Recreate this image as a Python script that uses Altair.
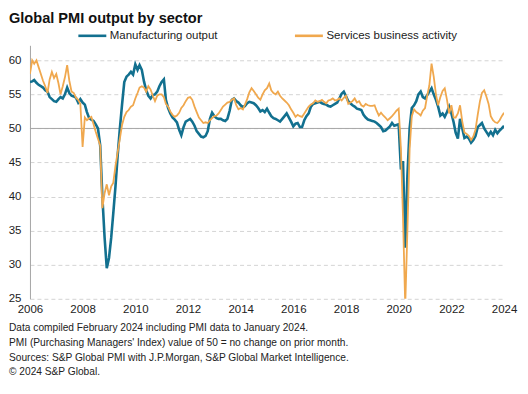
import altair as alt
import pandas as pd

title_text = "Global PMI output by sector"
series_names = ["Manufacturing output", "Services business activity"]
series_colors = ["#12708F", "#F0A84E"]
footer_lines = [
    "Data compiled February 2024 including PMI data to January 2024.",
    "PMI (Purchasing Managers' Index) value of 50 = no change on prior month.",
    "Sources: S&P Global PMI with J.P.Morgan, S&P Global Market Intelligence.",
    "\u00a9 2024 S&P Global.",
]
y_ticks = [25, 30, 35, 40, 45, 50, 55, 60]
x_tick_years = [2006, 2008, 2010, 2012, 2014, 2016, 2018, 2020, 2022, 2024]

# Monthly values, Jan 2006 - Jan 2024
manufacturing = [
    56.8, 56.9, 57.1, 56.7, 56.4, 56.2, 56.0, 55.6, 55.4, 54.6, 54.3, 54.0,  # 2006
    53.9, 54.3, 54.6, 54.4, 55.0, 56.0, 55.2, 54.8, 54.7, 54.5, 53.8, 54.3,  # 2007
    53.8, 53.5, 52.4, 51.5, 51.3, 51.1, 50.6, 50.0, 47.5, 40.0, 34.0, 29.5,  # 2008
    31.0, 34.0, 37.5, 41.5, 46.0, 50.0, 53.5, 56.8, 57.6, 57.9, 58.3, 57.9,  # 2009
    59.4, 58.6, 59.3, 58.6, 56.9, 55.6, 54.8, 54.4, 54.9, 55.0, 55.4, 56.2,  # 2010
    56.8, 57.2, 54.2, 53.0, 52.2, 51.6, 51.3, 50.9, 49.8, 49.0, 50.2, 51.0,  # 2011
    51.2, 51.4, 51.0, 50.4, 49.6, 49.2, 48.8, 48.7, 48.9, 49.6, 51.4, 52.3,  # 2012
    51.8, 51.5, 51.4, 51.4, 51.2, 51.1, 51.4, 52.6, 54.2, 54.4, 54.0, 53.8,  # 2013
    53.4, 53.1, 53.3, 53.7, 53.9, 53.8, 53.7, 53.4, 53.0, 52.5, 52.7, 52.4,  # 2014
    52.9, 52.3, 51.8, 51.5, 51.4, 51.2, 51.0, 51.4, 51.8, 52.2, 51.6, 51.0,  # 2015
    50.3, 50.7, 50.8, 50.2, 50.2, 51.2, 51.8, 52.2, 53.2, 53.6, 53.7, 53.8,  # 2016
    53.9, 53.7, 53.6, 53.5, 53.3, 53.2, 53.4, 53.6, 53.8, 54.4, 55.1, 55.4,  # 2017
    54.7, 54.0, 53.7, 53.4, 53.2, 52.9, 52.8, 52.7, 52.0, 51.6, 51.3, 51.2,  # 2018
    51.1, 51.0, 50.8, 50.5, 50.2, 49.6, 49.7, 50.0, 50.3, 50.8, 50.4, 50.5,  # 2019
    50.6, 44.0, 45.2, 32.5, 43.0, 50.0, 53.0, 53.4, 54.0, 55.0, 55.4, 54.6,  # 2020
    54.4, 54.9, 55.4, 55.9, 55.0, 54.2, 53.2, 51.9, 52.2, 51.7, 52.4, 53.2,  # 2021
    52.2, 50.9, 49.4, 48.5, 51.4, 50.0, 48.6, 48.8, 48.5, 47.9, 48.3, 48.9,  # 2022
    50.2, 50.5, 50.8, 50.0, 49.5, 49.0, 49.5, 49.0, 49.8, 49.3, 49.7, 50.0,  # 2023
    50.4,                                                                    # 2024
]
services = [
    58.0, 60.0, 59.5, 60.0, 59.0, 58.0, 57.0, 56.2, 55.2, 57.2, 58.3, 57.4,  # 2006
    58.0, 56.6, 55.0, 56.2, 57.5, 59.3, 57.0, 55.4, 55.2, 54.5, 54.2, 53.6,  # 2007
    47.3, 51.6, 51.2, 51.5, 51.7, 50.6, 49.5, 48.5, 47.5, 38.3, 40.5, 41.8,  # 2008
    40.2, 41.5, 42.0, 44.5, 46.5, 48.5, 50.5, 51.7, 52.4, 52.7, 53.2, 53.4,  # 2009
    54.4, 55.2, 56.0, 56.2, 56.0, 55.4, 56.2, 55.7, 54.8, 54.0, 54.8, 55.0,  # 2010
    55.0, 54.6, 53.6, 53.2, 52.5, 52.0, 51.7, 51.9, 52.3, 53.0, 53.4, 54.0,  # 2011
    54.5, 54.6, 54.2, 53.2, 52.4, 51.6, 51.2, 50.8, 50.9, 50.8, 51.2, 51.5,  # 2012
    51.8, 51.9, 52.2, 52.7, 53.2, 53.5, 53.8, 53.9, 54.2, 54.4, 53.4, 52.8,  # 2013
    53.0, 52.8, 53.5, 54.3, 55.3, 55.9, 55.5, 55.0, 54.5, 54.2, 55.0, 55.6,  # 2014
    55.9, 56.6, 55.6, 55.2, 55.0, 55.4, 54.8, 54.4, 54.1, 53.8, 53.4, 52.8,  # 2015
    52.3, 51.7, 52.0, 51.8, 51.7, 52.2, 52.7, 53.2, 53.5, 53.7, 54.1, 53.9,  # 2016
    54.0, 54.2, 53.9, 53.7, 54.1, 54.2, 54.4, 54.1, 54.2, 54.4, 54.1, 54.5,  # 2017
    54.8, 53.6, 53.8, 54.0, 54.4, 53.8, 54.0, 53.4, 53.2, 53.6, 53.4, 53.3,  # 2018
    53.3, 53.4, 52.6, 51.9, 52.3, 51.9, 51.6, 51.2, 51.5, 51.8, 52.2, 52.6,  # 2019
    52.9, 47.0, 37.0, 24.0, 35.0, 47.0, 51.8, 52.8, 52.4, 52.2, 51.9, 52.6,  # 2020
    53.0, 54.9, 56.3, 59.5, 57.6, 55.0, 53.4, 54.6, 55.5, 55.9, 54.2, 52.2,  # 2021
    53.4, 51.6, 51.6, 52.2, 53.4, 51.0, 49.4, 49.2, 48.9, 48.3, 48.8, 49.8,  # 2022
    52.0, 54.0, 55.2, 55.6, 54.7, 53.6, 51.8, 51.2, 50.9, 50.8, 51.2, 51.8,  # 2023
    52.3,                                                                    # 2024
]

n = len(manufacturing)
dates = [d.strftime("%Y-%m-%dT00:00:00") for d in pd.date_range("2006-01-01", periods=n, freq="MS")]
df = pd.DataFrame({
    "date": dates + dates,
    "value": manufacturing + services,
    "series": [series_names[0]] * n + [series_names[1]] * n,
})

FONT = "Liberation Sans"

x_enc = alt.X(
    "date:T",
    title=None,
    scale=alt.Scale(domain=[alt.DateTime(year=2006, month=1, date=1),
                            alt.DateTime(year=2024, month=1, date=1)]),
    axis=alt.Axis(values=[alt.DateTime(year=y, month=1, date=1) for y in x_tick_years],
                  tickCount=20, format="%Y", domain=False, ticks=False, grid=False,
                  labelPadding=5, labelFontSize=11.5, labelColor="#222", labelFont=FONT,
                  labelFlush=False, labelOverlap=False),
)
y_scale = alt.Scale(domain=[25, 62.2], nice=False, zero=False)
y_enc = alt.Y(
    "value:Q",
    title=None,
    scale=y_scale,
    axis=alt.Axis(values=y_ticks, tickCount=20, grid=True, gridDash=[4, 3], gridColor="#d4d4d4",
                  domainColor="#a6a6a6", ticks=False, labelPadding=9, labelOverlap=False,
                  labelFontSize=11.5, labelColor="#222", labelFont=FONT),
)
color_enc = alt.Color(
    "series:N",
    scale=alt.Scale(domain=series_names, range=series_colors),
    legend=alt.Legend(orient="none", legendX=47, legendY=-25, direction="horizontal",
                      title=None, symbolType="stroke", symbolSize=784, symbolStrokeWidth=2.6,
                      labelFontSize=11.5, labelFont=FONT, labelColor="#222",
                      columnPadding=71, labelOffset=2, padding=0),
)

base = alt.Chart(df)
line_m = base.transform_filter(alt.datum.series == series_names[0]).mark_line(
    strokeWidth=2.6, clip=True).encode(x=x_enc, y=y_enc, color=color_enc)
line_s = base.transform_filter(alt.datum.series == series_names[1]).mark_line(
    strokeWidth=1.8, clip=True).encode(x=x_enc, y=y_enc, color=color_enc)

ref = alt.Chart(pd.DataFrame({"ref": [50]})).mark_rule(color="#a6a6a6", strokeWidth=1).encode(
    y=alt.datum(50))

footer = alt.Chart(pd.DataFrame({"k": [0]})).mark_text(
    align="left", baseline="alphabetic", fontSize=10.2, font=FONT, color="#222",
    lineHeight=14.7).encode(x=alt.value(-21), y=alt.value(286.5), text=alt.value(footer_lines))

chart = alt.layer(line_m, line_s, footer, ref).properties(
    width=475, height=254,
    autosize=alt.AutoSizeParams(type="none"),
    padding={"left": 22, "top": 37, "right": 16, "bottom": 90},
    title=alt.TitleParams(text=title_text, anchor="start", frame="group", dx=-21, offset=-5,
                          fontSize=14.6, font=FONT, fontWeight="bold", color="#111"),
).configure_view(stroke="transparent")

# draw the 50 reference line beneath the series
chart.layer = [chart.layer[3], chart.layer[0], chart.layer[1], chart.layer[2]]

chart.save("out.html", embed_options={"renderer": "svg", "actions": False})
